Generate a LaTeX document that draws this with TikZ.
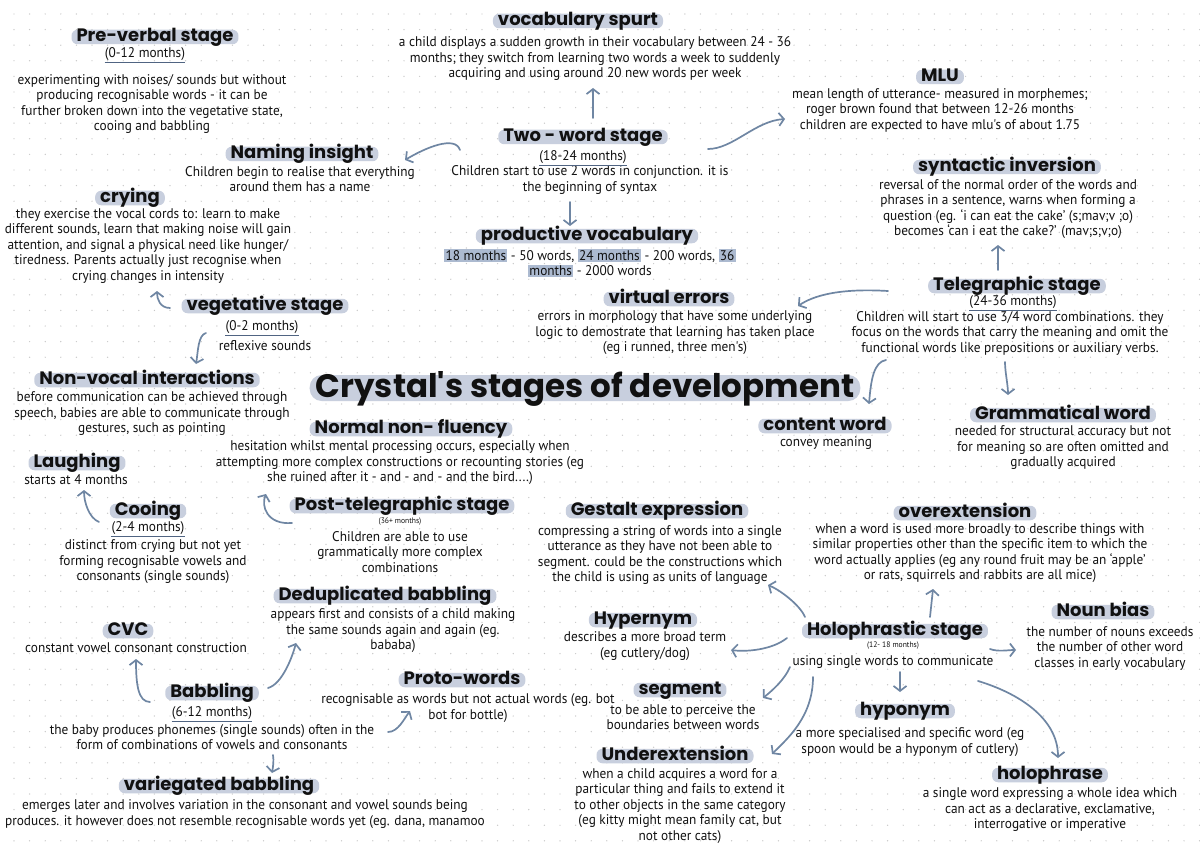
\documentclass[tikz,border=0pt]{standalone}
\usepackage{fontspec}
\usetikzlibrary{arrows.meta}
\newfontfamily\bodyf[FakeStretch=0.95]{PT Sans}
\newfontfamily\hfont{Poppins}
\definecolor{hl}{RGB}{200,207,222}
\definecolor{hlb}{RGB}{172,186,208}
\definecolor{arc}{RGB}{111,134,163}
\definecolor{ulc}{RGB}{80,100,130}
\definecolor{ink}{RGB}{17,17,17}
\definecolor{dotc}{RGB}{200,200,200}
\newcommand\hlw[1]{{\setlength{\fboxsep}{1.2pt}\colorbox{hlb}{#1}}}
\begin{document}
\begin{tikzpicture}[x=1pt,y=-1pt,
  bt/.style={font=\bodyf\fontsize{14}{15.5}\selectfont, align=center, inner sep=0pt, text=ink},
  tiny/.style={font=\bodyf\fontsize{8}{9}\selectfont, inner sep=0pt, text=ink},
  hd/.style={font=\hfont\bfseries\fontsize{18}{20}\selectfont, fill=hl, rounded corners=6pt, inner xsep=5pt, inner ysep=0pt, text height=12pt, text depth=2.5pt, text=ink},
  ttl/.style={font=\hfont\bfseries\fontsize{32.5}{34}\selectfont, fill=hl, rounded corners=12pt, inner xsep=6pt, inner ysep=0pt, text height=22pt, text depth=4pt, text=ink},
  ul/.style={draw=ulc, line width=1pt},
  ar/.style={draw=arc, line width=1.7pt, line cap=round, line join=round, -{Straight Barb[length=5pt,width=13pt]}}]
\useasboundingbox (0,0) rectangle (1200,848);
\fill[white] (0,0) rectangle (1200,848);
\foreach \i in {0,...,53}{
  \draw[dotc, line width=1.4pt, line cap=round, dash pattern=on 0pt off 15.6pt] (14,14+\i*15.6) -- (1200,14+\i*15.6);
}
% title
\node[ttl] (title) at (585,388) {Crystal's stages of development};
% pre-verbal
\node[hd] (pre) at (155,37) {Pre-verbal stage};
\node[bt] (preM) at (145,54) {(0-12 months)};
\node[bt] (preT) at (152,104) {experimenting with noises/ sounds but without\\producing recognisable words - it can be\\further broken down into the vegetative state,\\cooing and babbling};
\node[hd] (name) at (302,154) {Naming insight};
\node[bt] (nameT) at (300,179) {Children begin to realise that everything\\around them has a name};
\node[hd] (cry) at (130,198) {crying};
\node[bt] (cryT) at (148,246) {they exercise the vocal cords to: learn to make\\different sounds, learn that making noise will gain\\attention, and signal a physical need like hunger/\\tiredness. Parents actually just recognise when\\crying changes in intensity};
\node[hd] (veg) at (265,306) {vegetative stage};
\node[bt] (vegM) at (262,327) {(0-2 months)};
\node[bt] (vegT) at (265,346) {reflexive sounds};
\node[hd] (nonv) at (147,380) {Non-vocal interactions};
\node[bt] (nonvT) at (152,414) {before communication can be achieved through\\speech, babies are able to communicate through\\gestures, such as pointing};
\node[hd] (laugh) at (77,463) {Laughing};
\node[bt] (laughT) at (76,480) {starts at 4 months};
\node[hd] (coo) at (148,511) {Cooing};
\node[bt] (cooM) at (148,528) {(2-4 months)};
\node[bt] (cooT) at (153,562) {distinct from crying but not yet\\forming recognisable vowels and\\consonants (single sounds)};
\node[hd] (nnf) at (411,429) {Normal non- fluency};
\node[bt] (nnfT) at (400,463) {hesitation whilst mental processing occurs, especially when\\attempting more complex constructions or recounting stories (eg\\she ruined after it - and - and - and the bird....)};
\node[hd] (post) at (402,506) {Post-telegraphic stage};
\node[tiny] (postM) at (400,522) {(36+ months)};
\node[bt] (postT) at (400,552) {Children are able to use\\grammatically more complex\\combinations};
\node[hd] (cvc) at (128,631) {CVC};
\node[bt] (cvcT) at (136,648) {constant vowel consonant construction};
\node[hd] (dedup) at (385,596) {Deduplicated babbling};
\node[bt] (dedupT) at (393,631) {appears first and consists of a child making\\the same sounds again and again (eg.\\bababa)};
\node[hd] (babb) at (212,693) {Babbling};
\node[bt] (babbM) at (212,713) {(6-12 months)};
\node[bt] (babbT) at (212,737) {the baby produces phonemes (single sounds) often in the\\form of combinations of vowels and consonants};
\node[hd] (proto) at (462,680) {Proto-words};
\node[bt] (protoT) at (468,708) {recognisable as words but not actual words (eg. bot\\bot for bottle)};
\node[hd] (varieg) at (219,786) {variegated babbling};
\node[bt] (variegT) at (245,814) {emerges later and involves variation in the consonant and vowel sounds being\\produces. it however does not resemble recognisable words yet (eg. dana, manamoo};
% two-word area
\node[hd] (spurt) at (578,21) {vocabulary spurt};
\node[bt] (spurtT) at (595,59) {a child displays a sudden growth in their vocabulary between 24 - 36\\months; they switch from learning two words a week to suddenly\\acquiring and using around 20 new words per week};
\node[hd] (two) at (583,137) {Two - word stage};
\node[bt] (twoM) at (583,157) {(18-24 months)};
\node[bt] (twoT) at (590,180) {Children start to use 2 words in conjunction. it is\\the beginning of syntax};
\node[hd] (prod) at (587,236) {productive vocabulary};
\node[bt] (prodT) at (590,263) {\hlw{18 months} - 50 words, \hlw{24 months} - 200 words, \hlw{36}\\\hlw{months} - 2000 words};
\node[hd] (mlu) at (940,77) {MLU};
\node[bt] (mluT) at (940,110) {mean length of utterance- measured in morphemes;\\roger brown found that between 12-26 months\\children are expected to have mlu's of about 1.75};
\node[hd] (syn) at (1007,167) {syntactic inversion};
\node[bt] (synT) at (1008,209) {reversal of the normal order of the words and\\phrases in a sentence, warns when forming a\\question (eg. ‘i can eat the cake’ (s;mav;v ;o)\\becomes ‘can i eat the cake?’ (mav;s;v;o)};
\node[hd] (tele) at (1017,286) {Telegraphic stage};
\node[bt] (teleM) at (1013,302) {(24-36 months)};
\node[bt] (teleT) at (1010,333) {Children will start to use 3/4 word combinations. they\\focus on the words that carry the meaning and omit the\\functional words like prepositions or auxiliary verbs.};
\node[hd] (virt) at (669,299) {virtual errors};
\node[bt] (virtT) at (675,333) {errors in morphology that have some underlying\\logic to demostrate that learning has taken place\\(eg i runned, three men's)};
\node[hd] (cont) at (825,426) {content word};
\node[bt] (contT) at (826,443) {convey meaning};
\node[hd] (gram) at (1063,415) {Grammatical word};
\node[bt] (gramT) at (1063,448) {needed for structural accuracy but not\\for meaning so are often omitted and\\gradually acquired};
% holophrastic area
\node[hd] (gest) at (657,511) {Gestalt expression};
\node[bt] (gestT) at (660,555) {compressing a string of words into a single\\utterance as they have not been able to\\segment. could be the constructions which\\the child is using as units of language};
\node[hd] (over) at (965,513) {overextension};
\node[bt] (overT) at (980,553) {when a word is used more broadly to describe things with\\similar properties other than the specific item to which the\\word actually applies (eg any round fruit may be an ‘apple’\\or rats, squirrels and rabbits are all mice)};
\node[hd] (holo) at (895,631) {Holophrastic stage};
\node[tiny] (holoM) at (893,646) {(12- 18 months)};
\node[bt] (holoT) at (893,662) {using single words to communicate};
\node[hd] (hyper) at (643,620) {Hypernym};
\node[bt] (hyperT) at (645,646) {describes a more broad term\\(eg cutlery/dog)};
\node[hd] (seg) at (680,690) {segment};
\node[bt] (segT) at (683,717) {to be able to perceive the\\boundaries between words};
\node[hd] (under) at (675,756) {Underextension};
\node[bt] (underT) at (680,806) {when a child acquires a word for a\\particular thing and fails to extend it\\to other objects in the same category\\(eg kitty might mean family cat, but\\not other cats)};
\node[hd] (hypo) at (905,711) {hyponym};
\node[bt] (hypoT) at (910,742) {a more specialised and specific word (eg\\spoon would be a hyponym of cutlery)};
\node[hd] (noun) at (1103,612) {Noun bias};
\node[bt] (nounT) at (1110,648) {the number of nouns exceeds\\the number of other word\\classes in early vocabulary};
\node[hd] (holop) at (1050,775) {holophrase};
\node[bt] (holopT) at (1050,810) {a single word expressing a whole idea which\\can act as a declarative, exclamative,\\interrogative or imperative};
% underlines
\foreach \n in {preM,vegM,cooM,babbM,twoM,teleM}{
  \draw[ul] ([yshift=-1.5pt]\n.south west) -- ([yshift=-1.5pt]\n.south east);
}
% arrows
\draw[ar] ([shift={(-95,2)}]veg.center) .. controls +(-10,0) and +(0,8) .. ([shift={(9,45)}]cryT.center);
\draw[ar] ([shift={(-59,27)}]veg.center) .. controls +(-8,2) and +(2,-12) .. ([shift={(49,-16)}]nonv.center);
\draw[ar] ([shift={(-49,11)}]coo.center) .. controls +(-10,-4) and +(0,12) .. ([shift={(8,10)}]laughT.center);
\draw[ar] ([shift={(-110,17)}]post.center) .. controls +(-25,2) and +(-5,12) .. ([shift={(-134,31)}]nnfT.center);
\draw[ar] ([shift={(-62,9)}]babb.center) .. controls +(-12,0) and +(0,25) .. ([shift={(0,11)}]cvcT.center);
\draw[ar] ([shift={(56,-5)}]babb.center) .. controls +(14,-4) and +(-4,15) .. ([shift={(-97,12)}]dedupT.center);
\draw[ar] ([shift={(176,-5)}]babbT.center) .. controls +(10,0) and +(-6,8) .. ([shift={(-58,3)}]protoT.center);
\draw[ar] ([shift={(61,18)}]babbT.center) .. controls +(1,6) and +(1,-6) .. ([shift={(53,-13)}]varieg.center);
\draw[ar] ([shift={(10,-19)}]two.center) -- ([shift={(-2,29)}]spurtT.center);
\draw[ar] ([shift={(-123,13)}]two.center) .. controls +(-5,-15) and +(20,-12) .. ([shift={(105,-19)}]nameT.center);
\draw[ar] ([shift={(-20,22)}]twoT.center) -- ([shift={(-17,-10)}]prod.center);
\draw[ar] ([shift={(125,12)}]two.center) .. controls +(25,0) and +(-30,2) .. ([shift={(-155,9)}]mluT.center);
\draw[ar] ([shift={(-19,-16)}]tele.center) -- ([shift={(-10,36)}]synT.center);
\draw[ar] ([shift={(-129,5)}]tele.center) .. controls +(-50,-3) and +(15,-10) .. ([shift={(123,-27)}]virtT.center);
\draw[ar] ([shift={(-124,27)}]teleT.center) .. controls +(-12,2) and +(2,-25) .. ([shift={(44,-22)}]cont.center);
\draw[ar] ([shift={(-5,29)}]teleT.center) .. controls +(0,10) and +(0,-10) .. ([shift={(-55,-20)}]gram.center);
\draw[ar] ([shift={(35,-14)}]holo.center) -- ([shift={(-47,36)}]overT.center);
\draw[ar] ([shift={(-90,-14)}]holo.center) .. controls +(-5,-12) and +(12,5) .. ([shift={(108,30)}]gestT.center);
\draw[ar] ([shift={(-108,7)}]holo.center) .. controls +(-15,12) and +(15,2) .. ([shift={(86,4)}]hyperT.center);
\draw[ar] ([shift={(-103,5)}]holoT.center) .. controls +(-5,12) and +(10,-8) .. ([shift={(83,8)}]seg.center);
\draw[ar] ([shift={(-80,15)}]holoT.center) .. controls +(0,40) and +(15,-15) .. ([shift={(97,-2)}]under.center);
\draw[ar] ([shift={(7,10)}]holoT.center) -- ([shift={(-5,-19)}]hypo.center);
\draw[ar] ([shift={(95,18)}]holo.center) .. controls +(8,3) and +(-8,0) .. ([shift={(-94,2)}]nounT.center);
\draw[ar] ([shift={(85,19)}]holoT.center) .. controls +(40,12) and +(0,-40) .. ([shift={(8,-17)}]holop.center);
\end{tikzpicture}
\end{document}
